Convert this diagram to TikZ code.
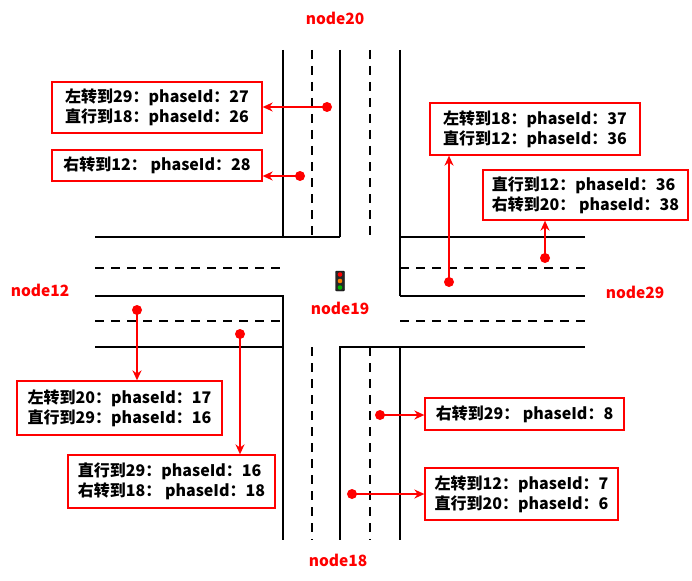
\documentclass[tikz,border=0pt]{standalone}
\usepackage{fontspec}
\setmainfont{Noto Sans CJK SC}
\usetikzlibrary{arrows.meta}
\begin{document}
\begin{tikzpicture}[x=1pt,y=-1pt,
  road/.style={line width=2.4pt,black},
  lane/.style={line width=2.4pt,black,dash pattern=on 9pt off 7pt},
  lbl/.style={text=red,font=\bfseries\fontsize{15.5}{18}\selectfont},
  box/.style={draw=red,line width=1.3pt,align=left,inner sep=0pt,font=\bfseries\fontsize{16}{20}\selectfont},
  dot/.style={circle,fill=red,inner sep=0pt,minimum size=10pt},
  arr/.style={red,line width=2.6pt,-{Stealth[length=10pt,width=9pt]}}]
\useasboundingbox (0,0) rectangle (692,580);
% north road
\draw[road] (283,50) -- (283,237) -- (340,237);
\draw[road] (340,50) -- (340,237);
\draw[road] (400,50) -- (400,237);
\draw[lane] (312,50) -- (312,237);
\draw[lane] (370,50) -- (370,237);
% west road
\draw[road] (95,237) -- (283,237);
\draw[lane] (95,268) -- (283,268);
\draw[road] (95,296) -- (283,296) -- (283,347);
\draw[lane] (95,321) -- (283,321);
\draw[road] (95,347) -- (283,347);
% east road
\draw[road] (585,237) -- (400,237) -- (400,296);
\draw[lane] (400,268) -- (585,268);
\draw[road] (400,296) -- (585,296);
\draw[lane] (400,321) -- (585,321);
\draw[road] (400,347) -- (585,347);
% south road
\draw[road] (283,347) -- (283,540);
\draw[road] (400,347) -- (340,347) -- (340,540);
\draw[road] (400,347) -- (400,540);
\draw[lane] (312,347) -- (312,540);
\draw[lane] (370,347) -- (370,540);
% traffic light
\node[draw=black,fill=black!85,minimum width=9pt,minimum height=20pt,inner sep=0pt,rounded corners=1pt] (tl) at (340,281) {};
\fill[red] (340,274.5) circle (2.3pt);
\fill[orange] (340,281) circle (2.3pt);
\fill[green!70!black] (340,287.5) circle (2.3pt);
% labels
\node[lbl] (n20) at (335,18) {node20};
\node[lbl] (n12) at (40,290) {node12};
\node[lbl] (n19) at (340,308) {node19};
\node[lbl] (n29) at (635,292) {node29};
\node[lbl] (n18) at (338,560) {node18};
% boxes
\node[box,minimum width=210pt,minimum height=51pt] (b1) at (157,107.5) {左转到29：phaseId：27\\直行到18：phaseId：26};
\node[box,minimum width=210pt,minimum height=31pt] (b2) at (157,165.5) {右转到12： phaseId：28};
\node[box,minimum width=210pt,minimum height=52pt] (b3) at (535,129) {左转到18：phaseId：37\\直行到12：phaseId：36};
\node[box,minimum width=205pt,minimum height=50pt] (b4) at (585.5,195) {直行到12：phaseId：36\\右转到20： phaseId：38};
\node[box,minimum width=205pt,minimum height=54pt] (b5) at (119.5,408) {左转到20：phaseId：17\\直行到29：phaseId：16};
\node[box,minimum width=207pt,minimum height=53pt] (b6) at (171.5,481.5) {直行到29：phaseId：16\\右转到18： phaseId：18};
\node[box,minimum width=199pt,minimum height=32pt] (b7) at (524.5,414) {右转到29： phaseId：8};
\node[box,minimum width=193pt,minimum height=52pt] (b8) at (521.5,494) {左转到12：phaseId：7\\直行到20：phaseId：6};
% arrows
\node[dot] (d1) at (327,107) {};
\node[dot] (d2) at (300,176) {};
\node[dot] (d3) at (449,282) {};
\node[dot] (d4) at (545,258) {};
\node[dot] (d5) at (137,310) {};
\node[dot] (d6) at (240,334) {};
\node[dot] (d7) at (380,415) {};
\node[dot] (d8) at (352,494) {};
\draw[arr] (d1.center) -- (d1 -| b1.east);
\draw[arr] (d2.center) -- (d2 -| b2.east);
\draw[arr] (d3.center) -- (d3 |- b3.south);
\draw[arr] (d4.center) -- (d4 |- b4.south);
\draw[arr] (d5.center) -- (d5 |- b5.north);
\draw[arr] (d6.center) -- (d6 |- b6.north);
\draw[arr] (d7.center) -- (d7 -| b7.west);
\draw[arr] (d8.center) -- (d8 -| b8.west);
\end{tikzpicture}
\end{document}
